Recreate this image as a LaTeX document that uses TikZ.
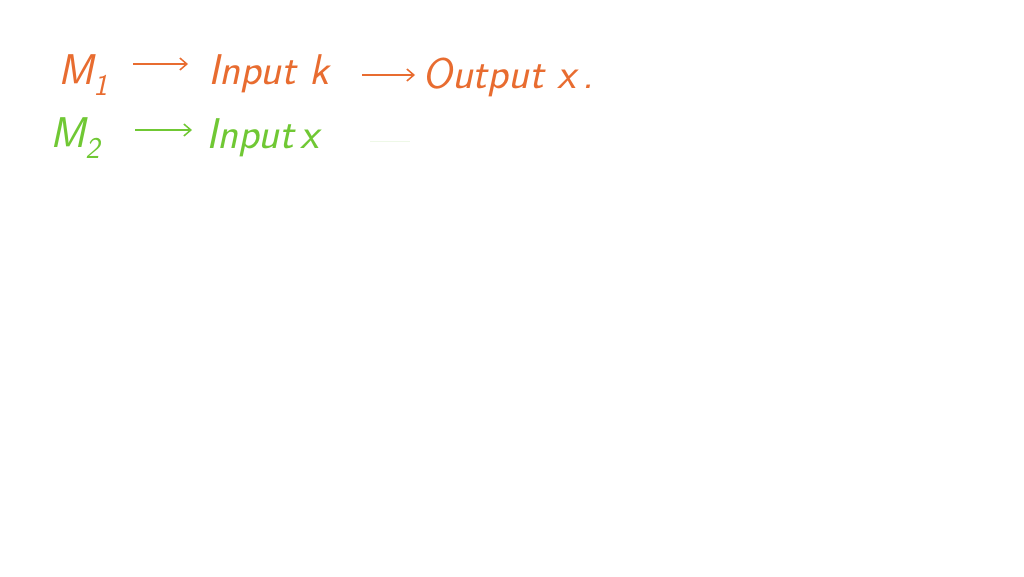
\documentclass[tikz,border=0pt]{standalone}
\usetikzlibrary{arrows.meta}
\definecolor{hworange}{RGB}{232,108,48}
\definecolor{hwgreen}{RGB}{112,200,52}
\begin{document}
\begin{tikzpicture}[x=1pt,y=-1pt,
  hw/.style={inner sep=0pt,font=\fontsize{43}{50}\selectfont\sffamily\slshape,anchor=base west},
  arr/.style={line width=1.5pt,-{Straight Barb[length=7pt,width=12pt]}}]
\useasboundingbox[fill=white] (0,0) rectangle (1024,576);
% row 1
\node[hw,text=hworange] (m1) at (58,84) {M\textsubscript{1}};
\node[hw,text=hworange] (ik) at (208,84) {Input k};
\node[hw,text=hworange] (ox) at (422,88) {Output x\hspace{0.15em}.};
\draw[arr,hworange] (133,64) coordinate (a1s) -- (188,64) coordinate (a1e);
\draw[arr,hworange] (362,75) coordinate (a2s) -- (415,75) coordinate (a2e);
% row 2
\node[hw,text=hwgreen] (m2) at (50,147) {M\textsubscript{2}};
\node[hw,text=hwgreen] (ix) at (206,148) {Input\hspace{0.15em}x};
\draw[arr,hwgreen] (135,130) coordinate (b1s) -- (192,130) coordinate (b1e);
\draw[hwgreen!12,line width=1pt] (370,141) coordinate (ds) -- (410,141) coordinate (de);
\end{tikzpicture}
\end{document}
